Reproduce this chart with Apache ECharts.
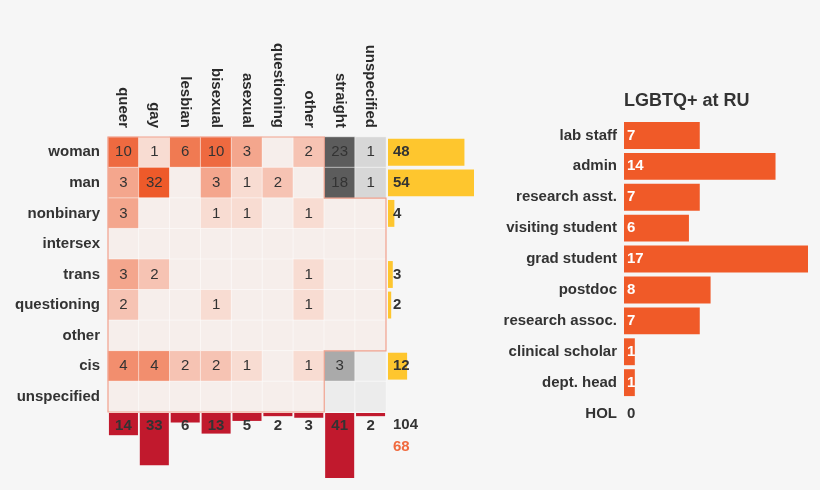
<!DOCTYPE html>
<html>
<head>
<meta charset="utf-8">
<script src="https://cdn.jsdelivr.net/npm/echarts@6/dist/echarts.min.js"></script>
<style>
html,body{margin:0;padding:0;background:#f6f6f6;}
#c{width:820px;height:490px;}
</style>
</head>
<body>
<div id="c"></div>
<script>
// ---------- data ----------
const cols = ['queer','gay','lesbian','bisexual','asexual','questioning','other','straight','unspecified'];
const rows = ['woman','man','nonbinary','intersex','trans','questioning','other','cis','unspecified'];
const rowWoman       = [10, 1, 6, 10, 3, 0, 2, 23, 1];
const rowMan         = [3, 32, 0, 3, 1, 2, 0, 18, 1];
const rowNonbinary   = [3, 0, 0, 1, 1, 0, 1, 0, 0];
const rowIntersex    = [0, 0, 0, 0, 0, 0, 0, 0, 0];
const rowTrans       = [3, 2, 0, 0, 0, 0, 1, 0, 0];
const rowQuestioning = [2, 0, 0, 1, 0, 0, 1, 0, 0];
const rowOther       = [0, 0, 0, 0, 0, 0, 0, 0, 0];
const rowCis         = [4, 4, 2, 2, 1, 0, 1, 3, 0];
const rowUnspecified = [0, 0, 0, 0, 0, 0, 0, 0, 0];
const grayRows = ['woman','man','cis','unspecified'];
const grayCols = ['straight','unspecified'];
const colTotals = [14, 33, 6, 13, 5, 2, 3, 41, 2];
const rowTotals = [48, 54, 4, 0, 3, 2, 0, 12, 0];
const jobs = ['lab staff','admin','research asst.','visiting student','grad student','postdoc','research assoc.','clinical scholar','dept. head','HOL'];
const jobCounts = [7, 14, 7, 6, 17, 8, 7, 1, 1, 0];
const totalAll = 104;
const totalLGBTQ = 68;
const rightTitle = 'LGBTQ+ at RU';

// ---------- build ----------
const matrix = [rowWoman,rowMan,rowNonbinary,rowIntersex,rowTrans,rowQuestioning,rowOther,rowCis,rowUnspecified];
const orangeData = [], grayData = [];
matrix.forEach((r, ri) => r.forEach((v, ci) => {
  const isGray = grayRows.includes(rows[ri]) && grayCols.includes(cols[ci]);
  (isGray ? grayData : orangeData).push([ci, ri, v]);
}));

const FONT = '"Liberation Sans", Arial, sans-serif';
const heatLabel = {show:true, formatter: p => p.value[2] ? String(p.value[2]) : '', fontSize:15, color:'#333', fontFamily:FONT};
const heatItem = {borderColor:'rgba(255,255,255,0.5)', borderWidth:1};

const chart = echarts.init(document.getElementById('c'));
const option = {
  backgroundColor:'#f6f6f6',
  animation:false,
  textStyle:{fontFamily:FONT},
  title:{text:rightTitle, left:624, top:92, padding:0, textStyle:{fontSize:18, fontWeight:'bold', color:'#333', fontFamily:FONT}},
  grid:[
    {left:108, top:137, width:278, height:275},
    {left:108, top:413, width:278, height:65},
    {left:388, top:137, width:86, height:275},
    {left:624, top:120, width:184, height:309}
  ],
  xAxis:[
    {gridIndex:0, type:'category', data:cols, position:'top',
     axisLine:{show:false}, axisTick:{show:false}, splitLine:{show:false},
     axisLabel:{rotate:90, interval:0, fontSize:15, fontWeight:'bold', color:'#2a2a2a', margin:9, fontFamily:FONT}},
    {gridIndex:1, type:'category', data:cols, show:false},
    {gridIndex:2, type:'value', min:0, max:54, show:false},
    {gridIndex:3, type:'value', min:0, max:17, show:false}
  ],
  yAxis:[
    {gridIndex:0, type:'category', data:rows, inverse:true,
     axisLine:{show:false}, axisTick:{show:false}, splitLine:{show:false},
     axisLabel:{fontSize:15, fontWeight:'bold', color:'#333', margin:8, fontFamily:FONT}},
    {gridIndex:1, type:'value', min:0, max:41, inverse:true, show:false},
    {gridIndex:2, type:'category', data:rows, inverse:true, show:false},
    {gridIndex:3, type:'category', data:jobs, inverse:true,
     axisLine:{show:false}, axisTick:{show:false}, splitLine:{show:false},
     axisLabel:{fontSize:15, fontWeight:'bold', color:'#333', margin:7, fontFamily:FONT}}
  ],
  visualMap:[
    {type:'piecewise', show:false, seriesIndex:0, dimension:2, pieces:[
      {gte:0, lte:0.5, color:'#f6eeeb'},
      {gt:0.5, lte:1.5, color:'#f8dcd2'},
      {gt:1.5, lte:2.5, color:'#f6c3b3'},
      {gt:2.5, lte:3.5, color:'#f4a68d'},
      {gt:3.5, lte:5.5, color:'#f28e6e'},
      {gt:5.5, lte:9.5, color:'#f07a52'},
      {gt:9.5, lte:19.5, color:'#ee6a40'},
      {gt:19.5, color:'#ee5a2a'}
    ]},
    {type:'piecewise', show:false, seriesIndex:1, dimension:2, pieces:[
      {gte:0, lte:0.5, color:'#ececec'},
      {gt:0.5, lte:1.5, color:'#d7d7d7'},
      {gt:1.5, lte:5.5, color:'#aaaaaa'},
      {gt:5.5, color:'#5c5c5c'}
    ]}
  ],
  series:[
    {type:'heatmap', xAxisIndex:0, yAxisIndex:0, data:orangeData, label:heatLabel, itemStyle:heatItem, emphasis:{disabled:true}},
    {type:'heatmap', xAxisIndex:0, yAxisIndex:0, data:grayData, label:heatLabel, itemStyle:heatItem, emphasis:{disabled:true}},
    {type:'bar', xAxisIndex:1, yAxisIndex:1, data:colTotals, barCategoryGap:'6%',
     itemStyle:{color:'#c1192d'},
     label:{show:true, position:'insideTop', distance:5, fontSize:15, fontWeight:'bold', color:'#333', fontFamily:FONT}},
    {type:'bar', xAxisIndex:2, yAxisIndex:2, data:rowTotals, barCategoryGap:'12%',
     itemStyle:{color:'#fec62e'},
     label:{show:true, position:'insideLeft', distance:5, fontSize:15, fontWeight:'bold', color:'#333', fontFamily:FONT,
            formatter:p => p.value ? String(p.value) : ''}},
    {type:'bar', xAxisIndex:3, yAxisIndex:3, barCategoryGap:'13%',
     data: jobCounts.map(v => v === 0 ? {value:v, label:{color:'#333'}} : v),
     itemStyle:{color:'#f05a28'},
     label:{show:true, position:'insideLeft', distance:3, fontSize:15, fontWeight:'bold', color:'#fff', fontFamily:FONT}}
  ]
};
chart.setOption(option);

// outline and totals positioned with the library's scales
const cx = c => chart.convertToPixel({xAxisIndex:0}, c);
const cy = r => chart.convertToPixel({yAxisIndex:0}, r);
const bw = cx(cols[1]) - cx(cols[0]);
const bh = cy(rows[1]) - cy(rows[0]);
const L = cx('queer') - bw/2;
const Ro = cx('other') + bw/2;
const Ru = cx('unspecified') + bw/2;
const Tw = cy('woman') - bh/2;
const Tn = cy('nonbinary') - bh/2;
const Bo = cy('other') + bh/2;
const Bu = cy('unspecified') + bh/2;
const totX = chart.convertToPixel({xAxisIndex:2}, 0) + 5;
const totY = chart.convertToPixel({yAxisIndex:1}, 0) + 12;
chart.setOption({graphic:[
  {type:'polygon', z:100, shape:{points:[[L,Tw],[Ro,Tw],[Ro,Tn],[Ru,Tn],[Ru,Bo],[Ro,Bo],[Ro,Bu],[L,Bu]]},
   style:{fill:'none', stroke:'#f0a08c', lineWidth:1.2}},
  {type:'text', x:totX, y:totY, style:{text:String(totalAll), fill:'#333', font:'bold 15px ' + FONT, textVerticalAlign:'middle'}},
  {type:'text', x:totX, y:totY + 22, style:{text:String(totalLGBTQ), fill:'#f06a3e', font:'bold 15px ' + FONT, textVerticalAlign:'middle'}}
]});
</script>
</body>
</html>
